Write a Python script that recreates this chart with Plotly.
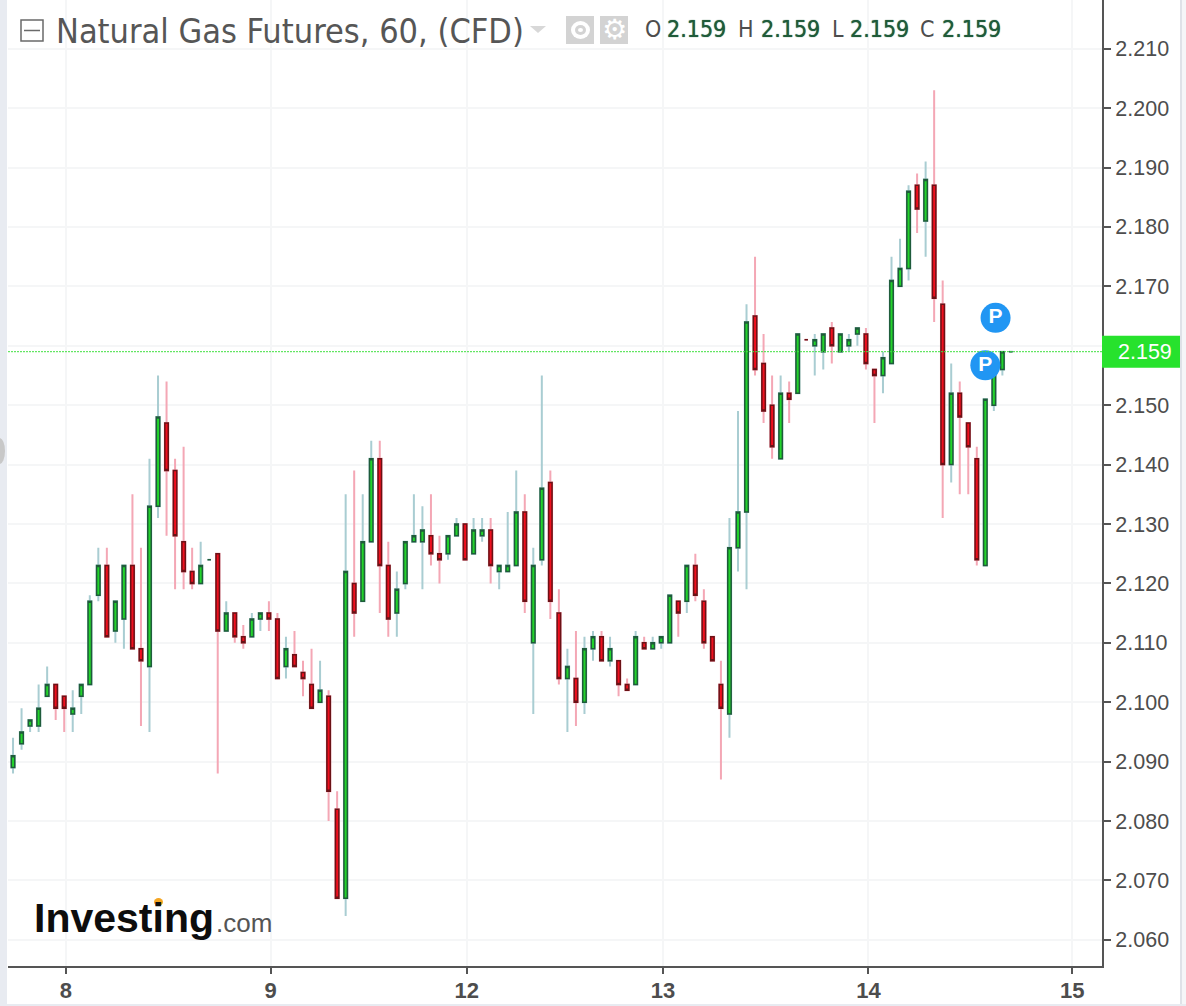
import plotly.graph_objects as go

# candles, one per hour, oldest first
open_ = [2.089, 2.093, 2.096, 2.096, 2.101, 2.103, 2.101, 2.098, 2.101, 2.103,
         2.118, 2.123, 2.112, 2.114, 2.123, 2.109, 2.106, 2.133, 2.147, 2.139,
         2.127, 2.122, 2.120, 2.124, 2.125, 2.112, 2.115, 2.111, 2.111, 2.114,
         2.115, 2.114, 2.106, 2.108, 2.105, 2.103, 2.100, 2.101, 2.082, 2.067,
         2.120, 2.117, 2.127, 2.141, 2.123, 2.115, 2.120, 2.127, 2.127, 2.128,
         2.125, 2.125, 2.128, 2.130, 2.125, 2.128, 2.129, 2.122, 2.122, 2.123,
         2.132, 2.110, 2.124, 2.137, 2.115, 2.104, 2.104, 2.100, 2.109, 2.111,
         2.107, 2.107, 2.103, 2.103, 2.110, 2.109, 2.110, 2.110, 2.117, 2.117,
         2.123, 2.117, 2.111, 2.103, 2.098, 2.126, 2.132, 2.165, 2.157, 2.150,
         2.141, 2.152, 2.152, 2.161, 2.160, 2.159, 2.163, 2.159, 2.160, 2.162,
         2.162, 2.156, 2.155, 2.157, 2.170, 2.173, 2.187, 2.181, 2.187, 2.167,
         2.140, 2.152, 2.147, 2.141, 2.123, 2.150, 2.156, 2.159]
high = [2.094, 2.099, 2.097, 2.103, 2.106, 2.103, 2.101, 2.102, 2.103, 2.118,
        2.126, 2.126, 2.117, 2.123, 2.135, 2.126, 2.141, 2.155, 2.154, 2.141,
        2.143, 2.126, 2.127, 2.124, 2.125, 2.117, 2.115, 2.113, 2.115, 2.115,
        2.117, 2.115, 2.111, 2.112, 2.107, 2.109, 2.107, 2.102, 2.085, 2.135,
        2.139, 2.135, 2.144, 2.144, 2.127, 2.122, 2.127, 2.135, 2.133, 2.135,
        2.128, 2.128, 2.131, 2.130, 2.131, 2.131, 2.131, 2.123, 2.132, 2.139,
        2.135, 2.126, 2.155, 2.139, 2.119, 2.109, 2.112, 2.111, 2.112, 2.112,
        2.111, 2.107, 2.104, 2.112, 2.111, 2.111, 2.111, 2.118, 2.117, 2.123,
        2.125, 2.119, 2.111, 2.107, 2.131, 2.149, 2.167, 2.175, 2.162, 2.155,
        2.155, 2.154, 2.162, 2.161, 2.162, 2.162, 2.164, 2.162, 2.162, 2.163,
        2.163, 2.156, 2.159, 2.175, 2.178, 2.187, 2.189, 2.191, 2.203, 2.171,
        2.157, 2.154, 2.147, 2.143, 2.151, 2.156, 2.159, 2.159]
low = [2.088, 2.092, 2.095, 2.095, 2.101, 2.097, 2.095, 2.095, 2.098, 2.103,
       2.117, 2.111, 2.110, 2.109, 2.109, 2.096, 2.095, 2.131, 2.128, 2.119,
       2.119, 2.119, 2.120, 2.124, 2.088, 2.112, 2.110, 2.109, 2.111, 2.112,
       2.112, 2.104, 2.104, 2.106, 2.101, 2.099, 2.100, 2.080, 2.067, 2.064,
       2.111, 2.117, 2.127, 2.115, 2.111, 2.111, 2.119, 2.127, 2.119, 2.123,
       2.120, 2.124, 2.128, 2.124, 2.125, 2.127, 2.120, 2.119, 2.122, 2.123,
       2.115, 2.098, 2.123, 2.114, 2.103, 2.095, 2.096, 2.098, 2.107, 2.107,
       2.106, 2.101, 2.102, 2.103, 2.109, 2.109, 2.109, 2.110, 2.111, 2.115,
       2.117, 2.109, 2.107, 2.087, 2.094, 2.122, 2.119, 2.155, 2.147, 2.141,
       2.141, 2.147, 2.152, 2.161, 2.155, 2.156, 2.157, 2.159, 2.159, 2.160,
       2.156, 2.147, 2.152, 2.157, 2.170, 2.171, 2.179, 2.175, 2.164, 2.131,
       2.137, 2.135, 2.135, 2.123, 2.123, 2.149, 2.155, 2.159]
close = [2.091, 2.095, 2.097, 2.099, 2.103, 2.099, 2.099, 2.099, 2.103, 2.117,
         2.123, 2.111, 2.117, 2.123, 2.109, 2.107, 2.133, 2.148, 2.139, 2.128,
         2.122, 2.120, 2.123, 2.124, 2.112, 2.115, 2.111, 2.110, 2.114, 2.115,
         2.114, 2.104, 2.109, 2.106, 2.104, 2.099, 2.102, 2.085, 2.067, 2.122,
         2.115, 2.127, 2.141, 2.123, 2.114, 2.119, 2.127, 2.128, 2.129, 2.125,
         2.124, 2.128, 2.130, 2.124, 2.129, 2.129, 2.123, 2.123, 2.123, 2.132,
         2.117, 2.123, 2.136, 2.117, 2.104, 2.106, 2.100, 2.109, 2.111, 2.107,
         2.109, 2.103, 2.102, 2.111, 2.109, 2.110, 2.111, 2.118, 2.115, 2.123,
         2.118, 2.110, 2.107, 2.099, 2.126, 2.132, 2.164, 2.156, 2.149, 2.143,
         2.152, 2.151, 2.162, 2.161, 2.161, 2.162, 2.160, 2.162, 2.161, 2.163,
         2.157, 2.155, 2.158, 2.171, 2.173, 2.186, 2.183, 2.188, 2.168, 2.140,
         2.152, 2.148, 2.143, 2.124, 2.151, 2.156, 2.159, 2.159]
hours = list(range(len(close)))
body_high = [max(o, c) for o, c in zip(open_, close)]
body_low = [min(o, c) for o, c in zip(open_, close)]

day_ticks = [6.2, 30.2, 53.2, 76.2, 100.3, 124.2]
day_labels = ["8", "9", "12", "13", "14", "15"]
price_ticks = [2.06, 2.07, 2.08, 2.09, 2.10, 2.11, 2.12, 2.13, 2.14, 2.15, 2.16, 2.17, 2.18, 2.19, 2.20, 2.21]
# 2.160 sits behind the last price tag in the picture
price_labels = ["2.060", "2.070", "2.080", "2.090", "2.100", "2.110", "2.120", "2.130", "2.140", "2.150", "",
                "2.170", "2.180", "2.190", "2.200", "2.210"]
last_price = 2.159
marker_hours = [114, 115.2]
marker_prices = [2.1567, 2.1647]

W, H = 1186, 1006
L, R, T, B = 8, 1102, 0, 966
GREY = "#4d4d4d"
VALUE_GREEN = "#1f5b3a"
HEAD_FONT = "DejaVu Sans Condensed"


def px(x):
    return (x - L) / (R - L)


def py(y):
    return (B - y) / (B - T)


def box(x0, y0, x1, y1, **kw):
    return dict(type="rect", xref="paper", yref="paper", x0=px(x0), x1=px(x1), y0=py(y0), y1=py(y1),
                line=dict(width=0), layer="above", **kw)


def oval(x0, y0, x1, y1, color):
    return dict(type="circle", xref="paper", yref="paper", x0=px(x0), x1=px(x1), y0=py(y0), y1=py(y1),
                fillcolor=color, line=dict(width=0), layer="above")


def label(x, y, text, size=20, color=GREY, family="Liberation Sans", anchor="left", bold=False, shadow=None):
    font = dict(size=size, color=color, family=family)
    if shadow:
        font["shadow"] = shadow
    return dict(xref="paper", yref="paper", x=px(x), y=py(y), text=f"<b>{text}</b>" if bold else text,
                showarrow=False, xanchor=anchor, yanchor="middle", font=font)


fig = go.Figure()

# wicks, pale, then the bodies without wicks on top
fig.add_trace(go.Candlestick(
    x=hours, open=open_, high=high, low=low, close=close, whiskerwidth=0,
    increasing=dict(line=dict(color="#a9cdd2", width=2), fillcolor="rgba(0,0,0,0)"),
    decreasing=dict(line=dict(color="#f4a7b5", width=2), fillcolor="rgba(0,0,0,0)"),
    hoverinfo="skip", showlegend=False))
fig.add_trace(go.Candlestick(
    x=hours, open=open_, high=body_high, low=body_low, close=close, whiskerwidth=0,
    increasing=dict(line=dict(color="#1f5b3a", width=1.5), fillcolor="#22d42b"),
    decreasing=dict(line=dict(color="#6a1216", width=1.5), fillcolor="#f00f1e"),
    showlegend=False))
fig.add_trace(go.Scatter(
    x=marker_hours, y=marker_prices, mode="markers+text", text=["P", "P"], textposition="middle center",
    marker=dict(size=30, color="#2196f3", line=dict(width=0)),
    textfont=dict(size=21, color="white", family="Liberation Sans", weight="bold"),
    hoverinfo="skip", showlegend=False))

shapes = [
    # last price line and tag
    dict(type="line", xref="paper", yref="y", x0=0, x1=1, y0=last_price, y1=last_price,
         line=dict(color="#3fe03f", width=1, dash="2px,1px"), layer="above"),
    dict(type="rect", xref="paper", yref="y", xsizemode="pixel", ysizemode="pixel", xanchor=1, yanchor=last_price,
         x0=0, x1=78, y0=-16, y1=16, fillcolor="#27e22d", line=dict(width=0), layer="above"),
    # window edges
    box(0, 0, 7, 1006, fillcolor="#e8ebf1"),
    oval(-6, 438, 5, 464, "#c8c8c8"),
    box(1182, 0, 1186, 1006, fillcolor="#f5f6f8"),
    box(1180, 0, 1182, 1006, fillcolor="#dfe2e8"),
    box(0, 1004, 1186, 1006, fillcolor="#e8ebf1"),
    # header icons
    dict(type="rect", xref="paper", yref="paper", x0=px(21), x1=px(43), y0=py(20), y1=py(41),
         line=dict(color="#6a6a6a", width=1.5), fillcolor="white", layer="above"),
    dict(type="line", xref="paper", yref="paper", x0=px(24), x1=px(40), y0=py(30.5), y1=py(30.5),
         line=dict(color="#6a6a6a", width=1.5), layer="above"),
    dict(type="path", xref="paper", yref="paper", fillcolor="#d8d8d8", line=dict(width=0), layer="above",
         path=f"M {px(530)} {py(26)} L {px(546)} {py(26)} L {px(538)} {py(33)} Z"),
    box(566, 16, 594, 44, fillcolor="#d3d3d3"),
    box(600, 16, 628, 44, fillcolor="#d3d3d3"),
    oval(571, 21, 590, 39, "white"),
    oval(575, 25, 586, 35, "#d3d3d3"),
    oval(578, 28, 583, 32, "white"),
    # logo dot
    oval(154, 898, 163, 906, "#f5a623"),
]

thick = "0 0 1px " + VALUE_GREEN
annotations = [
    label(54, 31, "Natural Gas Futures, 60, (CFD)", size=34, color="#565656", family=HEAD_FONT),
    label(614, 30, "⚙", size=28, color="white", family="DejaVu Sans", anchor="center"),
    label(643, 29, "O", size=23, family=HEAD_FONT),
    label(665, 29, "2.159", size=23, color=VALUE_GREEN, family=HEAD_FONT, shadow=thick),
    label(736, 29, "H", size=23, family=HEAD_FONT),
    label(759, 29, "2.159", size=23, color=VALUE_GREEN, family=HEAD_FONT, shadow=thick),
    label(830, 29, "L", size=23, family=HEAD_FONT),
    label(848, 29, "2.159", size=23, color=VALUE_GREEN, family=HEAD_FONT, shadow=thick),
    label(918, 29, "C", size=23, family=HEAD_FONT),
    label(940, 29, "2.159", size=23, color=VALUE_GREEN, family=HEAD_FONT, shadow=thick),
    dict(xref="paper", yref="y", x=1, xshift=14, y=last_price, text="2.159", showarrow=False, xanchor="left",
         yanchor="middle", font=dict(size=21.5, color="white", family="Liberation Sans")),
    label(32, 918, "Investing", size=41, color="#0d0d0d", bold=True),
    label(214, 923, ".com", size=26, color="#555555"),
]

fig.update_layout(
    width=W, height=H, autosize=False,
    margin=dict(l=L, r=W - R, t=T, b=H - B, pad=0),
    paper_bgcolor="white", plot_bgcolor="white",
    boxgap=0.42, boxmode="overlay", showlegend=False, hovermode=False,
    shapes=shapes, annotations=annotations,
    xaxis=dict(range=[-0.59, 127.68], tickmode="array", tickvals=day_ticks, ticktext=day_labels,
               rangeslider=dict(visible=False), showgrid=True, gridcolor="#f5f6f7", gridwidth=2,
               showline=True, linecolor="#555555", linewidth=2, ticks="outside", ticklen=6, tickcolor="#555555",
               tickwidth=2, ticklabelstandoff=-2,
               tickfont=dict(size=22, color=GREY, family="Liberation Sans", weight="bold"), zeroline=False),
    yaxis=dict(range=[2.0556, 2.2182], side="right", tickmode="array", tickvals=price_ticks, ticktext=price_labels,
               showgrid=True, gridcolor="#f5f6f7", gridwidth=2, showline=True, linecolor="#555555", linewidth=2,
               ticks="outside", ticklen=7, tickcolor="#555555", tickwidth=2,
               tickfont=dict(size=21.5, color=GREY, family="Liberation Sans"), zeroline=False),
)

# the page's default body margin would push the chart off by 8px
fig.write_html("out.html", post_script="document.body.style.margin = '0';", config={"displayModeBar": False})
